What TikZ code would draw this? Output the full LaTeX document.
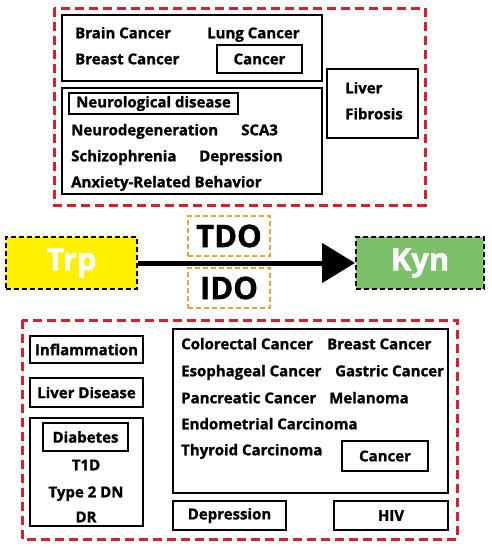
\documentclass[tikz,border=0pt]{standalone}
\usepackage{fontspec}
\setmainfont{Open Sans}[BoldFeatures={FakeBold=1.2}]
\usetikzlibrary{arrows.meta}
\definecolor{zonered}{HTML}{D7202B}
\definecolor{enzorange}{HTML}{E8A33A}
\definecolor{trpyellow}{HTML}{FFF000}
\definecolor{kyngreen}{HTML}{7CC16A}
\tikzset{
  txt/.style={anchor=base west, yshift=-5.3pt, inner sep=0pt, font=\bfseries\fontsize{15}{17}\selectfont},
  mid/.style={txt, anchor=base},
  grp/.style={draw, line width=2.4pt},
  tagbox/.style={draw, line width=2.4pt, inner sep=0pt, font=\bfseries\fontsize{15}{17}\selectfont},
  zone/.style={draw=zonered, line width=3pt, dash pattern=on 9pt off 5pt},
  enz/.style={draw=enzorange, line width=2pt, dash pattern=on 5pt off 3pt, inner sep=0pt, minimum width=82pt, minimum height=40pt, font=\bfseries\fontsize{31}{33}\selectfont},
  metab/.style={draw, line width=2pt, dash pattern=on 5pt off 3pt, inner sep=0pt, minimum height=52pt, text=white, font=\bfseries\fontsize{31}{33}\selectfont}
}
\begin{document}
\begin{tikzpicture}[x=1pt, y=-1pt]
\useasboundingbox (0,0) rectangle (492,547);
% Trp side
\draw[zone] (54,8) rectangle (425,205);
\draw[grp] (62,15) rectangle (322,81);
\node[txt] (brain) at (75,33) {Brain Cancer};
\node[txt] (lung) at (207,33) {Lung Cancer};
\node[txt] (breast) at (75,59) {Breast Cancer};
\node[tagbox, minimum width=85pt, minimum height=28pt] (cancerA) at (259.5,59) {Cancer};
\draw[grp] (62,88) rectangle (322,194);
\node[tagbox, minimum width=169pt, minimum height=21pt] (neuro) at (153.5,103.5) {Neurological disease};
\node[txt] (neurodeg) at (71,130) {Neurodegeneration};
\node[txt] (sca) at (241,130) {SCA3};
\node[txt] (schizo) at (71,156) {Schizophrenia};
\node[txt] (deprA) at (199,156) {Depression};
\node[txt] (anx) at (71,182) {Anxiety-Related Behavior};
\draw[grp] (327,69) rectangle (418,138);
\node[txt] (liver) at (345,88) {Liver};
\node[txt] (fibrosis) at (345,114) {Fibrosis};
% pathway
\node[metab, fill=trpyellow, minimum width=131pt] (trp) at (71.5,263) {Trp};
\node[metab, fill=kyngreen, minimum width=128pt] (kyn) at (420,263) {Kyn};
\node[enz] (tdo) at (229,236) {TDO};
\node[enz] (ido) at (229,288) {IDO};
\draw[line width=5pt, -{Triangle[length=33pt, width=39pt]}] (trp) -- (kyn);
% Kyn side
\draw[zone] (22,320) rectangle (457,539);
\node[tagbox, minimum width=113pt, minimum height=27pt] (inflam) at (86.5,349.5) {Inflammation};
\node[tagbox, minimum width=113pt, minimum height=29pt] (liverdis) at (86.5,392.5) {Liver Disease};
\draw[grp] (30,418) rectangle (143,526);
\node[tagbox, minimum width=85pt, minimum height=28pt] (diab) at (85.5,437) {Diabetes};
\node[mid] (t1d) at (86,465) {T1D};
\node[mid] (dn) at (86,492) {Type 2 DN};
\node[mid] (dr) at (86,517) {DR};
\draw[grp] (173,329) rectangle (448,493);
\node[txt] (colorectal) at (181,344) {Colorectal Cancer};
\node[txt] (breastB) at (327,344) {Breast Cancer};
\node[txt] (esoph) at (181,371) {Esophageal Cancer};
\node[txt] (gastric) at (335,371) {Gastric Cancer};
\node[txt] (pancreatic) at (181,398) {Pancreatic Cancer};
\node[txt] (melanoma) at (329,398) {Melanoma};
\node[txt] (endometrial) at (181,424) {Endometrial Carcinoma};
\node[txt] (thyroid) at (181,450) {Thyroid Carcinoma};
\node[tagbox, minimum width=86pt, minimum height=30pt] (cancerB) at (385,456) {Cancer};
\node[tagbox, minimum width=113pt, minimum height=29pt] (deprB) at (229.5,515.5) {Depression};
\node[tagbox, minimum width=114pt, minimum height=29pt] (hiv) at (391,515.5) {HIV};
\end{tikzpicture}
\end{document}
